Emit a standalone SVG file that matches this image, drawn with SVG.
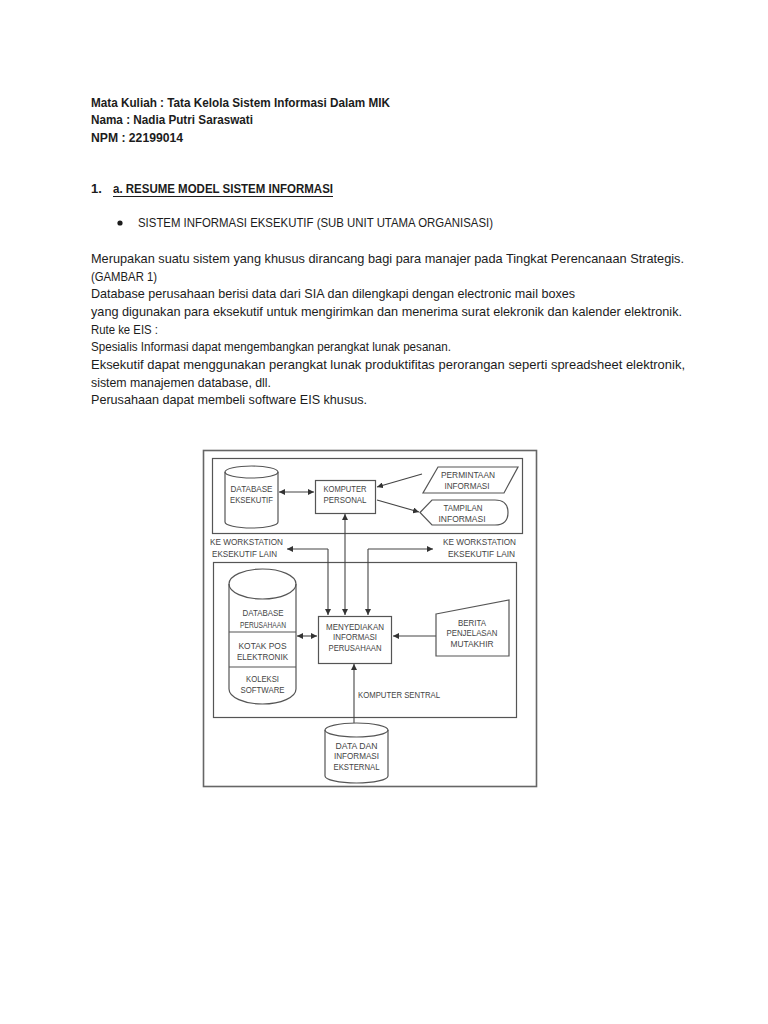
<svg xmlns="http://www.w3.org/2000/svg" width="768" height="1024" viewBox="0 0 768 1024">
<defs>
<marker id="ah" viewBox="0 0 6 6" refX="6" refY="3" markerWidth="6" markerHeight="6" markerUnits="userSpaceOnUse" orient="auto-start-reverse">
<path d="M0,0 L6,3 L0,6 z" fill="#333"/>
</marker>
<style>
.t{font-family:"Liberation Sans",Arial,sans-serif;font-size:13px;fill:#1c1c1c}
.b{font-weight:bold}
.d{font-family:"Liberation Sans",Arial,sans-serif;font-size:9.5px;fill:#444}
.c{text-anchor:middle}
.s{fill:#fff;stroke:#555;stroke-width:1.2}
.f{fill:none;stroke:#555;stroke-width:1.2}
.ln{fill:none;stroke:#444;stroke-width:1.1}
</style>
</defs>
<rect width="768" height="1024" fill="#fff"/>

<g id="header">
<text class="t b" x="91" y="107" textLength="299" lengthAdjust="spacingAndGlyphs">Mata Kuliah : Tata Kelola Sistem Informasi Dalam MIK</text>
<text class="t b" x="91" y="124" textLength="162" lengthAdjust="spacingAndGlyphs">Nama : Nadia Putri Saraswati</text>
<text class="t b" x="91" y="142" textLength="92" lengthAdjust="spacingAndGlyphs">NPM : 22199014</text>
<text class="t b" x="91" y="193">1.</text>
<text class="t b" x="113" y="193" textLength="220" lengthAdjust="spacingAndGlyphs">a. RESUME MODEL SISTEM INFORMASI</text>
<line x1="113" y1="196.5" x2="333" y2="196.5" stroke="#1c1c1c" stroke-width="1"/>
<circle cx="120" cy="223" r="2.6" fill="#1c1c1c"/>
<text class="t" x="138" y="227" textLength="355" lengthAdjust="spacingAndGlyphs">SISTEM INFORMASI EKSEKUTIF (SUB UNIT UTAMA ORGANISASI)</text>
</g>

<g id="body">
<text class="t" x="91" y="263" textLength="593" lengthAdjust="spacingAndGlyphs">Merupakan suatu sistem yang khusus dirancang bagi para manajer pada Tingkat Perencanaan Strategis.</text>
<text class="t" x="91" y="280.5" textLength="66" lengthAdjust="spacingAndGlyphs">(GAMBAR 1)</text>
<text class="t" x="91" y="298" textLength="484" lengthAdjust="spacingAndGlyphs">Database perusahaan berisi data dari SIA dan dilengkapi dengan electronic mail boxes</text>
<text class="t" x="91" y="316" textLength="591" lengthAdjust="spacingAndGlyphs">yang digunakan para eksekutif untuk mengirimkan dan menerima surat elekronik dan kalender elektronik.</text>
<text class="t" x="91" y="333.5" textLength="67" lengthAdjust="spacingAndGlyphs">Rute ke EIS :</text>
<text class="t" x="91" y="351" textLength="360" lengthAdjust="spacingAndGlyphs">Spesialis Informasi dapat mengembangkan perangkat lunak pesanan.</text>
<text class="t" x="91" y="369" textLength="594" lengthAdjust="spacingAndGlyphs">Eksekutif dapat menggunakan perangkat lunak produktifitas perorangan seperti spreadsheet elektronik,</text>
<text class="t" x="91" y="386.5" textLength="180" lengthAdjust="spacingAndGlyphs">sistem manajemen database, dll.</text>
<text class="t" x="91" y="404" textLength="276" lengthAdjust="spacingAndGlyphs">Perusahaan dapat membeli software EIS khusus.</text>
</g>

<g id="frames">
<rect x="203.5" y="450.5" width="333" height="336" fill="none" stroke="#666" stroke-width="1.6"/>
<rect x="212.5" y="458.5" width="310" height="75" class="f"/>
<rect x="213.5" y="562.5" width="303" height="155" class="f"/>
</g>

<g id="connectors">
<path class="ln" d="M279,492 H314" marker-start="url(#ah)" marker-end="url(#ah)"/>
<path class="ln" d="M422,474 L377,487" marker-end="url(#ah)"/>
<path class="ln" d="M377,500 L419,512" marker-end="url(#ah)"/>
<path class="ln" d="M345,514 V615" marker-start="url(#ah)" marker-end="url(#ah)"/>
<path class="ln" d="M328,549 V615" marker-end="url(#ah)"/>
<path class="ln" d="M328,549 H287" marker-end="url(#ah)"/>
<path class="ln" d="M368,549 V615" marker-end="url(#ah)"/>
<path class="ln" d="M368,549 H433" marker-end="url(#ah)"/>
<path class="ln" d="M297,636 H317" marker-start="url(#ah)" marker-end="url(#ah)"/>
<path class="ln" d="M436,636 H393" marker-end="url(#ah)"/>
<path class="ln" d="M354,723 V664" marker-end="url(#ah)"/>
</g>

<g id="database-eksekutif">
<path class="s" d="M225,472 A26.5,6 0 0 1 278,472 L278,522 A26.5,6 0 0 1 225,522 Z"/>
<path class="f" d="M225,472 A26.5,6 0 0 0 278,472"/>
<text class="d c" x="251.5" y="492" textLength="42" lengthAdjust="spacingAndGlyphs">DATABASE</text>
<text class="d c" x="251.5" y="503" textLength="43" lengthAdjust="spacingAndGlyphs">EKSEKUTIF</text>
</g>

<g id="komputer-personal">
<rect class="s" x="315.5" y="480.5" width="60" height="33"/>
<text class="d c" x="345" y="492" textLength="43" lengthAdjust="spacingAndGlyphs">KOMPUTER</text>
<text class="d c" x="345" y="503" textLength="43" lengthAdjust="spacingAndGlyphs">PERSONAL</text>
</g>

<g id="permintaan-informasi">
<path class="s" d="M438,467 L518,467 L504,493 L423,493 Z"/>
<text class="d c" x="468" y="478" textLength="54" lengthAdjust="spacingAndGlyphs">PERMINTAAN</text>
<text class="d c" x="467" y="489" textLength="45" lengthAdjust="spacingAndGlyphs">INFORMASI</text>
</g>

<g id="tampilan-informasi">
<path class="s" d="M420,512.5 L432,500 L495,500 Q508,500 508,512.5 Q508,525 495,525 L432,525 Z"/>
<text class="d c" x="463" y="510.5" textLength="39" lengthAdjust="spacingAndGlyphs">TAMPILAN</text>
<text class="d c" x="462" y="521.5" textLength="47" lengthAdjust="spacingAndGlyphs">INFORMASI</text>
</g>

<g id="workstation-kiri">
<text class="d" x="210" y="545" textLength="73" lengthAdjust="spacingAndGlyphs">KE WORKSTATION</text>
<text class="d" x="212" y="557" textLength="65" lengthAdjust="spacingAndGlyphs">EKSEKUTIF LAIN</text>
</g>

<g id="workstation-kanan">
<text class="d" x="443" y="545" textLength="73" lengthAdjust="spacingAndGlyphs">KE WORKSTATION</text>
<text class="d" x="448" y="557" textLength="67" lengthAdjust="spacingAndGlyphs">EKSEKUTIF LAIN</text>
</g>

<g id="database-perusahaan">
<path class="s" d="M229,584 A33.5,15 0 0 1 296,584 L296,689 A33.5,15 0 0 1 229,689 Z"/>
<path class="f" d="M229,584 A33.5,15 0 0 0 296,584"/>
<line class="f" x1="229" y1="632" x2="296" y2="632"/>
<line class="f" x1="229" y1="667" x2="296" y2="667"/>
<text class="d c" x="263" y="616" textLength="41" lengthAdjust="spacingAndGlyphs">DATABASE</text>
<text class="d c" x="263" y="627.5" textLength="46" lengthAdjust="spacingAndGlyphs">PERUSAHAAN</text>
<text class="d c" x="262.5" y="649" textLength="48" lengthAdjust="spacingAndGlyphs">KOTAK POS</text>
<text class="d c" x="262.5" y="660" textLength="51" lengthAdjust="spacingAndGlyphs">ELEKTRONIK</text>
<text class="d c" x="262.5" y="682" textLength="33" lengthAdjust="spacingAndGlyphs">KOLEKSI</text>
<text class="d c" x="262.5" y="692.5" textLength="44" lengthAdjust="spacingAndGlyphs">SOFTWARE</text>
</g>

<g id="menyediakan-informasi">
<rect class="s" x="318.5" y="616.5" width="73" height="47"/>
<text class="d c" x="355" y="629.5" textLength="58" lengthAdjust="spacingAndGlyphs">MENYEDIAKAN</text>
<text class="d c" x="355" y="640" textLength="44" lengthAdjust="spacingAndGlyphs">INFORMASI</text>
<text class="d c" x="355" y="650.5" textLength="53" lengthAdjust="spacingAndGlyphs">PERUSAHAAN</text>
</g>

<g id="berita">
<path class="s" d="M436,614 L509,600 L509,656 L436,656 Z"/>
<text class="d c" x="472" y="625.5" textLength="28" lengthAdjust="spacingAndGlyphs">BERITA</text>
<text class="d c" x="472" y="636" textLength="51" lengthAdjust="spacingAndGlyphs">PENJELASAN</text>
<text class="d c" x="472" y="646.5" textLength="43" lengthAdjust="spacingAndGlyphs">MUTAKHIR</text>
</g>

<g id="komputer-sentral">
<text class="d" x="358" y="698" textLength="82" lengthAdjust="spacingAndGlyphs">KOMPUTER SENTRAL</text>
</g>

<g id="data-eksternal">
<path class="s" d="M325,730 A31.5,7 0 0 1 388,730 L388,776 A31.5,7 0 0 1 325,776 Z"/>
<path class="f" d="M325,730 A31.5,7 0 0 0 388,730"/>
<text class="d c" x="356.5" y="749" textLength="42" lengthAdjust="spacingAndGlyphs">DATA DAN</text>
<text class="d c" x="356.5" y="759" textLength="45" lengthAdjust="spacingAndGlyphs">INFORMASI</text>
<text class="d c" x="356.5" y="769.5" textLength="46" lengthAdjust="spacingAndGlyphs">EKSTERNAL</text>
</g>
</svg>
